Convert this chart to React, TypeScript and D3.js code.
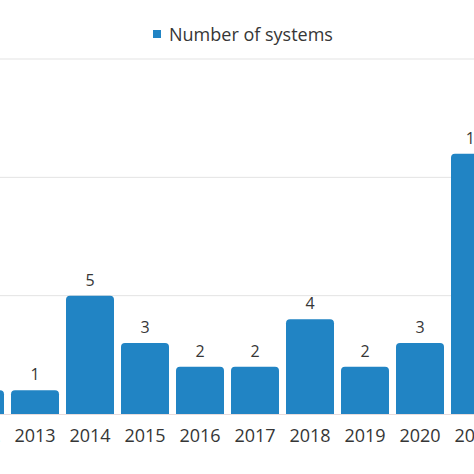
import React from "react";
import * as d3 from "d3";

const years = ["2012", "2013", "2014", "2015", "2016", "2017", "2018", "2019", "2020", "2021"];
const systems = [1, 1, 5, 3, 2, 2, 4, 2, 3, 11];
const gridValues = [5, 10, 15];
const seriesName = "Number of systems";

const W = 474;
const H = 474;
const BLUE = "#2184c4";
const TEXT = "#363636";
const FONT = "'Open Sans', sans-serif";

function topRounded(x: number, y: number, w: number, h: number, r: number) {
  const rr = Math.min(r, h, w / 2);
  return `M${x},${y + h}V${y + rr}Q${x},${y} ${x + rr},${y}H${x + w - rr}Q${x + w},${y} ${x + w},${y + rr}V${y + h}Z`;
}

export default function App() {
  const x = d3
    .scaleBand<string>()
    .domain(years)
    .range([-47.5, 502.5])
    .paddingInner(7 / 55)
    .paddingOuter(3.5 / 55);
  const y = d3.scaleLinear().domain([0, 15]).range([414, 59]);

  return (
    <svg
      width={W}
      height={H}
      style={{ position: "absolute", left: 0, top: 0, background: "#fff" }}
      fontFamily={FONT}
    >
      {gridValues.map((v) => (
        <line key={v} x1={0} x2={W} y1={y(v)} y2={y(v)} stroke="#e3e3e3" strokeWidth={1} />
      ))}
      <line x1={0} x2={W} y1={y(0) + 0.5} y2={y(0) + 0.5} stroke="#e8dcdc" strokeWidth={1} />
      {years.map((yr, i) => {
        const bx = x(yr)!;
        const bw = x.bandwidth();
        const top = y(systems[i]);
        return (
          <g key={yr}>
            <path d={topRounded(bx, top, bw, y(0) - top, 4)} fill={BLUE} />
            <text
              x={bx + bw / 2}
              y={top - 10}
              textAnchor="middle"
              fontSize={16}
              fill={TEXT}
            >
              {systems[i]}
            </text>
            <text x={bx + bw / 2} y={442} textAnchor="middle" fontSize={18} fill={TEXT}>
              {yr}
            </text>
          </g>
        );
      })}
      <rect x={153} y={30} width={8} height={8} fill={BLUE} />
      <text x={169} y={40.5} fontSize={18} fill={TEXT}>
        {seriesName}
      </text>
    </svg>
  );
}
